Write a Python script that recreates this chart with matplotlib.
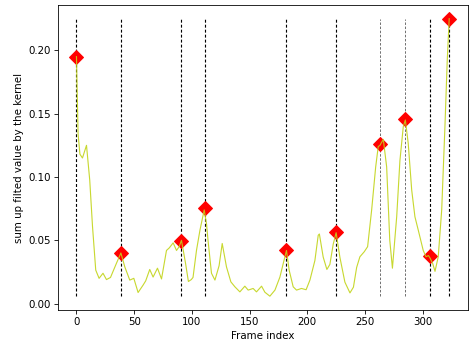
import matplotlib
matplotlib.use("Agg")
import matplotlib.pyplot as plt

frames = [0, 1.4, 3, 5.2, 8.7, 11.5, 13.9, 16.7, 19.6, 23, 26, 29.5, 34.7, 38.5,
          41.9, 46.2, 49.7, 53.4, 57.7, 60, 63.5, 66.4, 70.2, 73.7, 78, 80.4, 83.8,
          86.7, 89, 91, 94.5, 97, 99.5, 101, 104, 107, 110.7, 112.7, 114, 117, 120,
          123.6, 126.3, 130, 133.8, 137.3, 141.6, 145.9, 148.8, 153.1, 156, 160.4,
          163.3, 167.6, 172, 176.3, 179.8, 182, 184.3, 187.8, 190.7, 195, 199, 202.3,
          206.6, 209.5, 210.5, 213.8, 217, 219.6, 222.5, 225, 228.3, 232.6, 237, 240,
          242.8, 245.6, 249.4, 252.3, 255.8, 259.3, 261.5, 263, 265.9, 268.8, 271.5,
          273.8, 277.5, 280.3, 283.2, 285, 287.5, 290.5, 293.3, 296.2, 300.5, 302.9,
          305, 306.4, 308.7, 310.7, 313.5, 316.5, 319.3, 321.3, 323]
values = [0.195, 0.134, 0.118, 0.115, 0.125, 0.0975, 0.061, 0.0265, 0.020, 0.024,
          0.019, 0.0207, 0.032, 0.040, 0.029, 0.0186, 0.020, 0.0088, 0.0146, 0.018,
          0.027, 0.021, 0.028, 0.0195, 0.042, 0.044, 0.048, 0.042, 0.045, 0.050,
          0.032, 0.0175, 0.019, 0.0207, 0.042, 0.058, 0.074, 0.063, 0.050, 0.024,
          0.0186, 0.030, 0.0475, 0.029, 0.0172, 0.0133, 0.0093, 0.0138, 0.0107,
          0.012, 0.0093, 0.0138, 0.009, 0.0059, 0.0107, 0.021, 0.034, 0.042, 0.0265,
          0.0133, 0.0107, 0.012, 0.011, 0.0186, 0.034, 0.054, 0.055, 0.0368, 0.027,
          0.031, 0.047, 0.056, 0.0365, 0.017, 0.0085, 0.013, 0.0286, 0.037, 0.041,
          0.045, 0.074, 0.108, 0.124, 0.125, 0.1297, 0.108, 0.05, 0.028, 0.0686,
          0.113, 0.1397, 0.145, 0.1265, 0.0897, 0.0686, 0.058, 0.042, 0.037, 0.038,
          0.036, 0.0317, 0.0255, 0.037, 0.074, 0.1397, 0.192, 0.225]

peaks = [0, 39, 91, 111, 182, 225, 263, 285, 306, 323]
peak_vals = [0.195, 0.0396, 0.0496, 0.0752, 0.0423, 0.0567, 0.126, 0.146, 0.0378, 0.2245]
thin_peaks = [263, 285]

fig = plt.figure(figsize=(6.4, 4.7), dpi=74.0625)
ax = fig.add_axes([0.122, 0.109, 0.865, 0.877])

ymin, ymax = min(values), max(values)
for p in peaks:
    if p in thin_peaks:
        ax.vlines(p, ymin, ymax, colors="#555555", linestyles=(0, (3, 2)), linewidth=0.8)
    else:
        ax.vlines(p, ymin, ymax, colors="black", linestyles=(0, (2.6, 1.8)), linewidth=1.1)

ax.plot(peaks, peak_vals, "D", color="red", markersize=9, zorder=3)
ax.plot(frames, values, color="#c2d41a", linewidth=1.1, zorder=4, alpha=0.9)

ax.set_xlabel("Frame index", fontsize=10)
ax.set_ylabel("sum up filted value by the kernel", fontsize=10)
ax.tick_params(labelsize=10)
ax.set_xticks([0, 50, 100, 150, 200, 250, 300])
ax.set_yticks([0.0, 0.05, 0.10, 0.15, 0.20])

fig.savefig("out.png", dpi=74.0625)
